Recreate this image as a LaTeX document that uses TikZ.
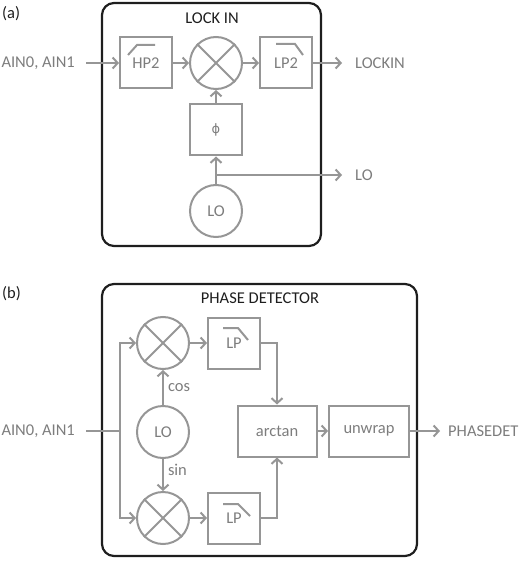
\documentclass[tikz,border=0pt]{standalone}
\usepackage{fontspec}
\setmainfont{Carlito}
\newfontfamily\dvs{DejaVu Sans}
\usetikzlibrary{arrows.meta,shapes.geometric}
\definecolor{lg}{RGB}{150,150,150}
\definecolor{tg}{RGB}{125,125,125}
\definecolor{fr}{RGB}{30,30,30}
\begin{document}
\begin{tikzpicture}[x=1pt,y=-1pt,
  every node/.style={font=\fontsize{16.5}{20}\selectfont, text=tg},
  blk/.style={draw=lg, line width=2pt, minimum width=52pt, minimum height=51pt, inner sep=0pt},
  mult/.style={draw=lg, line width=2pt, circle, minimum size=52pt, inner sep=0pt},
  osc/.style={draw=lg, line width=2pt, circle, minimum size=52pt, inner sep=0pt},
  conn/.style={draw=lg, line width=2pt, -{Straight Barb[length=5pt,width=11pt]}},
  wire/.style={draw=lg, line width=2pt},
  frame/.style={draw=fr, line width=2.2pt, rounded corners=12pt},
  ttl/.style={text=fr},
  lbl/.style={inner sep=2pt},
]
\useasboundingbox (0,0) rectangle (520,564);
% ---------- (a) ----------
\draw[frame] (102,3) rectangle (321,246);
\node[ttl] (ttla) at (212,18) {LOCK IN};
\node[ttl, lbl, anchor=west] (la) at (0,14) {(a)};
\node[blk] (hp) at (146,63) {HP2};
\node[mult] (m) at (216,63) {};
\node[blk] (lp) at (286,63) {LP2};
\node[blk] (ph) at (216,130) {\dvs\fontsize{13}{15}\selectfont ϕ};
\node[osc] (lo) at (216,211) {LO};
\node[lbl, anchor=east] (ain) at (77,63) {AIN0, AIN1};
\node[lbl, anchor=west] (lockin) at (353,63) {LOCKIN};
\node[lbl, anchor=west] (loout) at (353,175) {LO};
\coordinate (br) at (216,175);
\draw[wire] (m.45) -- (m.225) (m.135) -- (m.315);
\draw[wire, shift={(hp.center)}] (-18,-8) -- (-9,-18) -- (9,-18);
\draw[wire, shift={(lp.center)}] (-10,-19) -- (9,-19) -- (17,-8);
\draw[conn, shorten <=9pt] (ain) -- (hp);
\draw[conn] (hp) -- (m);
\draw[conn] (m) -- (lp);
\draw[conn, shorten >=11pt] (lp) -- (lockin);
\draw[conn] (ph) -- (m);
\draw[conn] (lo) -- (ph);
\draw[conn, shorten >=11pt] (br) -- (loout.west);
% ---------- (b) ----------
\draw[frame] (102,284) rectangle (417,556);
\node[ttl] (ttlb) at (260,298) {PHASE DETECTOR};
\node[ttl, lbl, anchor=west] (lb) at (0,294) {(b)};
\node[mult] (m1) at (163,343) {};
\node[mult] (m2) at (163,518) {};
\node[osc] (lo2) at (163,432) {LO};
\node[blk] (lpa) at (234,343) {\raisebox{-3pt}{LP}};
\node[blk] (lpb) at (234,518) {\raisebox{-2pt}{LP}};
\node[blk, minimum width=79pt] (at) at (277,431) {arctan};
\node[blk, minimum width=80pt] (uw) at (369,431) {unwrap};
\node[lbl, anchor=east] (ain2) at (77,431) {AIN0, AIN1};
\node[lbl, anchor=west] (pd) at (446,431) {PHASEDET};
\coordinate (j) at (120,431);
\draw[wire] (m1.45) -- (m1.225) (m1.135) -- (m1.315);
\draw[wire] (m2.45) -- (m2.225) (m2.135) -- (m2.315);
\draw[wire, shift={(lpa.center)}] (-11,-15) -- (4,-15) -- (14,-3);
\draw[wire, shift={(lpb.center)}] (-11,-14) -- (4,-14) -- (16,-2);
\draw[wire, shorten <=9pt] (ain2.east) -- (j);
\draw[conn] (j) |- (m1);
\draw[conn] (j) |- (m2);
\draw[conn] (lo2) -- node[lbl, right=2pt, pos=0.5] {cos} (m1);
\draw[conn] (lo2) -- node[lbl, right=2pt, pos=0.35] {sin} (m2);
\draw[conn] (m1) -- (lpa);
\draw[conn] (m2) -- (lpb);
\draw[conn] (lpa) -| (at);
\draw[conn] (lpb) -| (at);
\draw[conn] (at) -- (uw);
\draw[conn, shorten >=6pt] (uw) -- (pd.west);
\end{tikzpicture}
\end{document}
